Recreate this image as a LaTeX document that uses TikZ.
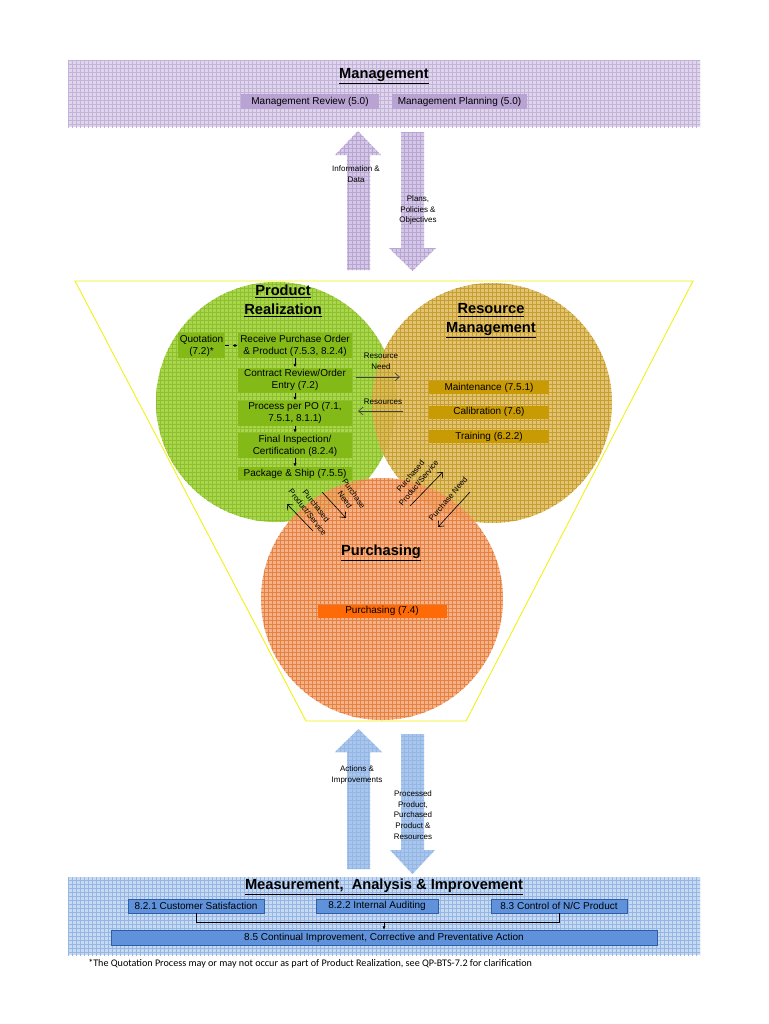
\documentclass[tikz,border=0pt]{standalone}
\usepackage{fontspec}
\setmainfont{Liberation Sans}
\newfontfamily\notefont{Carlito}
\usetikzlibrary{patterns,arrows.meta}
\definecolor{mgmtfill}{HTML}{DFD6EC}
\definecolor{mgmtgrid}{HTML}{C3B2DA}
\definecolor{mgmtbox}{HTML}{B9A3D3}
\definecolor{lavarrow}{HTML}{D4C8E6}
\definecolor{lavgrid}{HTML}{B9A5D3}
\definecolor{greenfill}{HTML}{AAD64C}
\definecolor{greengrid}{HTML}{8CC030}
\definecolor{greenbox}{HTML}{84BA18}
\definecolor{goldfill}{HTML}{DEB958}
\definecolor{goldgrid}{HTML}{C79E34}
\definecolor{goldbox}{HTML}{C89A04}
\definecolor{orfill}{HTML}{F5A26C}
\definecolor{orgrid}{HTML}{E38242}
\definecolor{orbox}{HTML}{FF6A08}
\definecolor{bluefill}{HTML}{C8DAF2}
\definecolor{bluegrid}{HTML}{96B7E4}
\definecolor{bluebox}{HTML}{5F92DA}
\definecolor{blueline}{HTML}{2F5EA8}
\definecolor{bluearrow}{HTML}{A8C6EE}
\definecolor{funnel}{HTML}{F2F000}
\definecolor{flowgray}{HTML}{404040}
\begin{document}
\begin{tikzpicture}[x=0.75pt,y=-0.75pt,
  mesh/.style 2 args={fill=#1, postaction={pattern=grid, pattern color=#2}},
  titletxt/.style={font=\fontsize{11}{14}\selectfont\bfseries, align=center, inner sep=0pt},
  boxtxt/.style={font=\fontsize{7.5}{9}\selectfont, align=center, inner sep=0pt},
  smalltxt/.style={font=\fontsize{6}{8}\selectfont, align=center, inner sep=0pt},
  difftxt/.style={font=\fontsize{6}{8}\selectfont, align=center, inner sep=0pt},
  mbox/.style={boxtxt, fill=mgmtbox, minimum height=11.25pt},
  gbox/.style={boxtxt, fill=greenbox, minimum width=85.5pt, minimum height=18.75pt},
  rbox/.style={boxtxt, fill=goldbox, minimum width=90pt, minimum height=9.75pt},
  pbox/.style={boxtxt, fill=orbox, minimum width=96.75pt, minimum height=9.75pt},
  bbox/.style={boxtxt, fill=bluebox, draw=blueline, line width=0.5pt, minimum height=10.5pt},
  flow/.style={-{Latex[length=2.5pt,width=2.5pt]}, line width=0.5pt, black},
  thin/.style={-{Straight Barb[length=3.5pt,width=6pt]}, line width=0.45pt, flowgray}
]
\useasboundingbox (0,0) rectangle (768,1024);
\fill[white] (0,0) rectangle (768,1024);

% ---------- Management ----------
\path[mesh={mgmtfill}{mgmtgrid}] (68,61) rectangle (700,127);
\node[titletxt] (mgmt) at (384,76) {\underline{Management}};
\node[mbox, minimum width=103.5pt] (mrev) at (310,101.5) {Management Review (5.0)};
\node[mbox, minimum width=101.25pt] (mplan) at (459.5,101.5) {Management Planning (5.0)};

% top block arrows
\path[mesh={lavarrow}{lavgrid}] (358,131) -- (381,155) -- (370,155) -- (370,270) -- (347,270) -- (347,155) -- (335,155) -- cycle;
\path[mesh={lavarrow}{lavgrid}] (401,132) -- (424,132) -- (424,248) -- (436,248) -- (412.5,271) -- (389,248) -- (401,248) -- cycle;
\node[smalltxt] (infolbl) at (356,174) {Information \&\\Data};
\node[smalltxt] (planlbl) at (418,210) {Plans,\\Policies \&\\Objectives};

% ---------- Funnel ----------
\draw[funnel, line width=0.6pt] (75,281) -- (693,281) -- (466,721) -- (306,721) -- cycle;

% ---------- Circles ----------
\path[mesh={greenfill}{greengrid}] (276,402) circle[radius=120];
\path[mesh={goldfill}{goldgrid}, fill opacity=0.85] (492,403) circle[radius=120];
\path[mesh={orfill}{orgrid}, fill opacity=0.82] (382,599) circle[radius=121];

% ---------- Product Realization ----------
\node[titletxt] (prtitle) at (283,301) {\underline{Product}\\\underline{Realization}};
\node[gbox, minimum width=35.25pt] (quote) at (201.5,345.5) {Quotation\\(7.2)*};
\node[gbox] (recv) at (295,345.5) {Receive Purchase Order\\\& Product (7.5.3, 8.2.4)};
\node[gbox] (contract) at (295,380) {Contract Review/Order\\Entry (7.2)};
\node[gbox] (process) at (295,413) {Process per PO (7.1,\\7.5.1, 8.1.1)};
\node[gbox] (final) at (295,445.5) {Final Inspection/\\Certification (8.2.4)};
\node[gbox, minimum height=9.75pt] (pack) at (295,473.5) {Package \& Ship (7.5.5)};
\draw[flow, dashed] (quote) -- (recv);
\draw[flow] (recv) -- (contract);
\draw[flow] (contract) -- (process);
\draw[flow] (process) -- (final);
\draw[flow] (final) -- (pack);

% resource need / resources
\coordinate (rnA) at (356,377);
\coordinate (rnB) at (400,377);
\coordinate (rsA) at (403,411);
\coordinate (rsB) at (358,411);
\draw[thin] (rnA) -- (rnB);
\draw[thin] (rsA) -- (rsB);
\node[smalltxt] (rnlbl) at (381,361) {Resource\\Need};
\node[smalltxt] (rslbl) at (383,402) {Resources};

% ---------- Resource Management ----------
\node[titletxt] (rmtitle) at (491,321) {\underline{Resource}\\\underline{Management}};
\node[rbox] (maint) at (489,387.5) {Maintenance (7.5.1)};
\node[rbox] (calib) at (489,412) {Calibration (7.6)};
\node[rbox] (train) at (489,436.5) {Training (6.2.2)};

% ---------- Purchasing ----------
\node[titletxt] (putitle) at (381,553) {\underline{Purchasing}};
\node[pbox] (purch) at (382,611) {Purchasing (7.4)};

% diagonal flows
\coordinate (pnLa) at (322,492);
\coordinate (pnLb) at (346,518);
\coordinate (ppLa) at (313,531);
\coordinate (ppLb) at (287,504);
\coordinate (ppRa) at (410,506);
\coordinate (ppRb) at (443,472);
\coordinate (pnRa) at (470,492);
\coordinate (pnRb) at (438,527);
\draw[thin, black] (pnLa) -- (pnLb);
\draw[thin, black] (ppLa) -- (ppLb);
\draw[thin, black] (ppRa) -- (ppRb);
\draw[thin, black] (pnRa) -- (pnRb);
\node[difftxt, rotate=-55] (pnLlbl) at (349.5,496.5) {Purchase\\Need};
\node[difftxt, rotate=-52] (ppLlbl) at (312,509) {Purchased\\Product/Service};
\node[difftxt, rotate=50] (ppRlbl) at (414.5,479.5) {Purchased\\Product/Service};
\node[difftxt, rotate=50] (pnRlbl) at (448,499) {Purchase Need};

% ---------- bottom block arrows ----------
\path[mesh={bluearrow}{bluegrid}] (358.5,729) -- (382,752) -- (370,752) -- (370,869) -- (347,869) -- (347,752) -- (335,752) -- cycle;
\path[mesh={bluearrow}{bluegrid}] (401,734) -- (424,734) -- (424,850) -- (435,850) -- (412.5,874) -- (390,850) -- (401,850) -- cycle;
\node[smalltxt] (actlbl) at (357,775) {Actions \&\\Improvements};
\node[smalltxt] (proclbl) at (413,815) {Processed\\Product,\\Purchased\\Product \&\\Resources};

% ---------- Measurement ----------
\path[mesh={bluefill}{bluegrid}] (68,877) rectangle (700,955);
\node[titletxt] (mtitle) at (384,887) {\underline{Measurement,\ \ Analysis \& Improvement}};
\node[bbox, minimum width=102pt] (cust) at (196,906) {8.2.1 Customer Satisfaction};
\node[bbox, minimum width=91.5pt] (audit) at (377,906) {8.2.2 Internal Auditing};
\node[bbox, minimum width=102pt] (ncp) at (559,906) {8.3 Control of N/C Product};
\node[bbox, minimum width=409.5pt, minimum height=11.25pt] (cont) at (384,937.5) {8.5 Continual Improvement, Corrective and Preventative Action};
\coordinate (jn) at (384,922);
\draw[line width=0.5pt, black] (cust.south) -- (cust.south |- jn) -- (ncp.south |- jn) -- (ncp.south);
\draw[flow] (jn) -- (cont.north -| jn);

\node[anchor=west, inner sep=0pt, font=\notefont\fontsize{7.6}{9}\selectfont] (note) at (88,964) {*The Quotation Process may or may not occur as part of Product Realization, see QP-BTS-7.2 for clarification};
\end{tikzpicture}
\end{document}
